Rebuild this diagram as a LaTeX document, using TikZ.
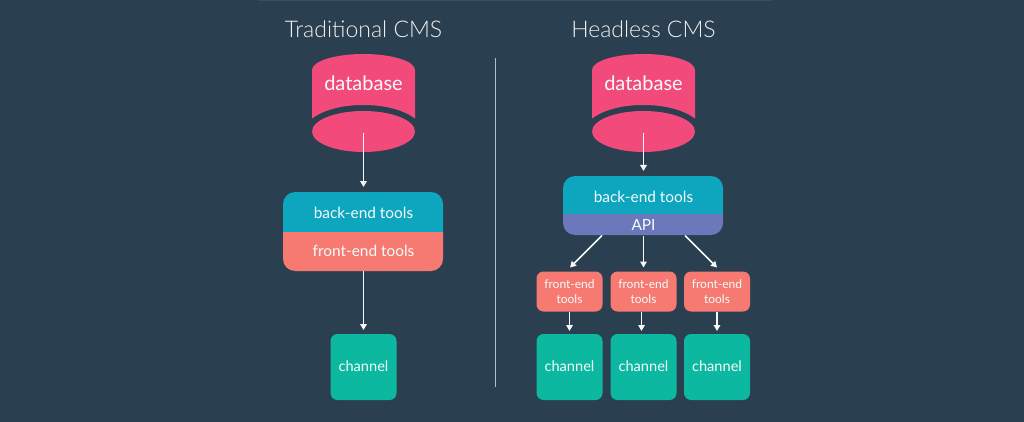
\documentclass[tikz,border=0pt]{standalone}
\usepackage{fontspec}
\setmainfont{Lato}
\newfontfamily\lightfont{Lato Light}
\usetikzlibrary{arrows.meta}
\definecolor{bg}{HTML}{2A3F50}
\definecolor{dbpink}{HTML}{F34A7C}
\definecolor{backblue}{HTML}{0EA6BF}
\definecolor{frontred}{HTML}{F77A72}
\definecolor{apiblue}{HTML}{6B78BC}
\definecolor{chgreen}{HTML}{0DB8A0}
\definecolor{txt}{HTML}{F4FCFB}
\tikzset{
  x=1pt,y=-1pt,
  lbl/.style={text=txt,font=\fontsize{15.4}{17}\selectfont,inner sep=0pt,align=center},
  dblbl/.style={text=txt,font=\fontsize{20}{22}\selectfont,inner sep=0pt},
  title/.style={text=white!93!bg,font=\lightfont\fontsize{23}{26}\selectfont,inner sep=0pt},
  chan/.style={fill=chgreen,draw=none,rounded corners=7pt,minimum width=66pt,minimum height=66pt,inner sep=0pt,text=txt,font=\fontsize{14.6}{17}\selectfont},
  fe/.style={fill=frontred,draw=none,rounded corners=7pt,minimum width=66pt,minimum height=40pt,inner sep=0pt,text=txt,font=\fontsize{12}{14.6}\selectfont,align=center},
  conn/.style={draw=white!97!bg,line width=1.5pt,-{Triangle[length=6pt,width=6.5pt]}},
  divider/.style={draw=white!66!bg,line width=1pt}
}
\newcommand{\dbshape}[1]{%
  \fill[dbpink] (#1-51.5,70) .. controls (#1-51.5,61) and (#1-28,54) .. (#1,54)
     .. controls (#1+28,54) and (#1+51.5,61) .. (#1+51.5,70) -- (#1+51.5,118.5)
     .. controls (#1+40,110) and (#1+22,105) .. (#1,105)
     .. controls (#1-22,105) and (#1-40,110) .. (#1-51.5,118.5) -- cycle;
  \fill[dbpink] (#1,131.5) ellipse [x radius=51.5pt,y radius=20.5pt];
}
\newcommand{\chanlabel}{\raisebox{1.2pt}{channel}}
\begin{document}
\begin{tikzpicture}
\useasboundingbox (0,0) rectangle (1024,422);
\fill[bg] (0,0) rectangle (1024,422);
\draw[white!8!bg,line width=0.8pt] (258,0.4) -- (772,0.4);

\node[title] (t1) at (363.5,29) {Traditional CMS};
\node[title] (t2) at (643.5,29) {Headless CMS};

\coordinate (d1) at (495,58);
\coordinate (d2) at (495,386.5);
\draw[divider] (d1) -- (d2);

% left
\dbshape{363.5}
\node[dblbl] (db1) at (363.5,83) {database};
\coordinate (db1out) at (363.5,133);
\fill[backblue] (283,232) -- (283,204) arc[start angle=180,end angle=270,radius=12] -- (431,192) arc[start angle=270,end angle=360,radius=12] -- (443,232) -- cycle;
\fill[frontred] (283,232) -- (443,232) -- (443,259) arc[start angle=0,end angle=90,radius=12] -- (295,271) arc[start angle=90,end angle=180,radius=12] -- cycle;
\node[lbl] (be1) at (363.5,213) {back-end tools};
\node[lbl] (fe1) at (363.5,250.5) {front-end tools};
\coordinate (stack1top) at (363.5,187);
\coordinate (stack1bot) at (363.5,271);
\node[chan] (ch1) at (363.5,367) {\chanlabel};
\coordinate (ch1in) at (363.5,330);
\draw[conn] (db1out) -- (stack1top);
\draw[conn] (stack1bot) -- (ch1in);

% right
\dbshape{643.5}
\node[dblbl] (db2) at (643.5,83) {database};
\coordinate (db2out) at (643.5,133);
\fill[backblue] (563,214) -- (563,188) arc[start angle=180,end angle=270,radius=12] -- (711,176) arc[start angle=270,end angle=360,radius=12] -- (723,214) -- cycle;
\fill[apiblue] (563,214) -- (723,214) -- (723,223) arc[start angle=0,end angle=90,radius=12] -- (575,235) arc[start angle=90,end angle=180,radius=12] -- cycle;
\node[lbl] (be2) at (643.5,196.5) {back-end tools};
\node[lbl] (api) at (643.5,225) {API};
\coordinate (stack2top) at (643.5,171);
\draw[conn] (db2out) -- (stack2top);

\node[fe] (f1) at (569.5,291.5) {front-end\\tools};
\node[fe] (f2) at (643.5,291.5) {front-end\\tools};
\node[fe] (f3) at (717,291.5) {front-end\\tools};
\node[chan] (c1) at (569.5,367) {\chanlabel};
\node[chan] (c2) at (643.5,367) {\chanlabel};
\node[chan] (c3) at (717,367) {\chanlabel};

\coordinate (a1s) at (602,235.5);
\coordinate (a1e) at (570,267.5);
\coordinate (a2s) at (643.5,235.5);
\coordinate (a2e) at (643.5,267.5);
\coordinate (a3s) at (685,235.5);
\coordinate (a3e) at (717,267.5);
\draw[conn] (a1s) -- (a1e);
\draw[conn] (a2s) -- (a2e);
\draw[conn] (a3s) -- (a3e);
\coordinate (b1e) at (569.5,331);
\coordinate (b2s) at (641.5,311.5);
\coordinate (b2e) at (641.5,331);
\coordinate (b3e) at (717,331);
\draw[conn] (f1.south) -- (b1e);
\draw[conn] (b2s) -- (b2e);
\draw[conn] (f3.south) -- (b3e);
\end{tikzpicture}
\end{document}
